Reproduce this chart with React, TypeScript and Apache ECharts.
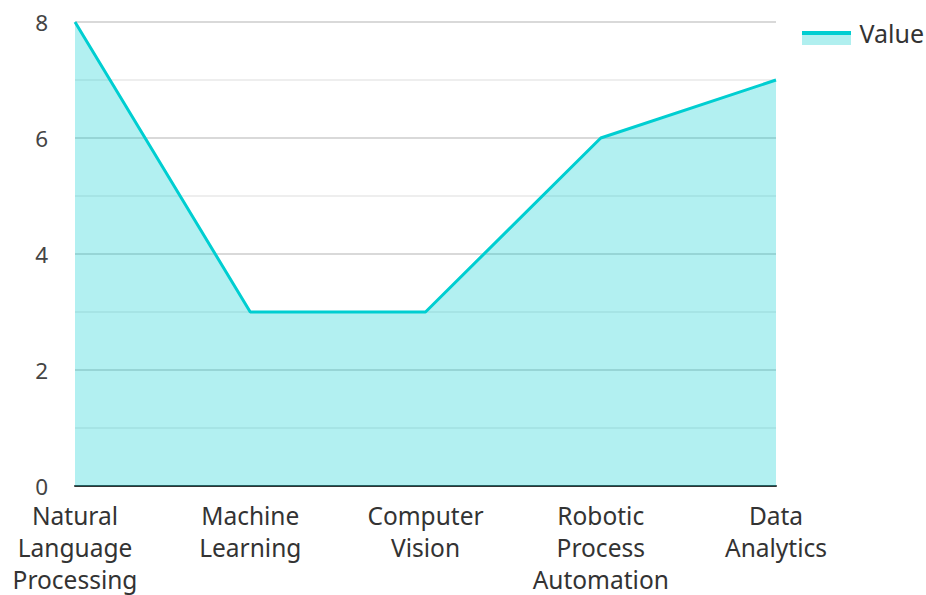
import React, { useEffect, useRef } from "react";
import * as echarts from "echarts";

const categories = [
  "Natural Language Processing",
  "Machine Learning",
  "Computer Vision",
  "Robotic Process Automation",
  "Data Analytics",
];
const values = [8, 3, 3, 6, 7];
const seriesName = "Value";

export default function App() {
  const ref = useRef<HTMLDivElement>(null);
  useEffect(() => {
    if (!ref.current) return;
    const chart = echarts.init(ref.current, null, { renderer: "svg" });
    const font = "'Noto Sans', 'Open Sans', sans-serif";
    chart.setOption({
      animation: false,
      textStyle: { fontFamily: font },
      grid: { left: 75, right: 150, top: 22, bottom: 107, containLabel: false },
      legend: {
        data: [seriesName],
        right: 2,
        top: 20,
        padding: 0,
        itemWidth: 50,
        itemHeight: 14,
        icon: "rect",
        itemStyle: { opacity: 0 },
        textStyle: { fontSize: 25, color: "#333", fontFamily: font },
      },
      graphic: [
        {
          type: "rect",
          left: 802,
          top: 35,
          shape: { width: 49, height: 10 },
          style: { fill: "#b0efef" },
          z: 100,
        },
        {
          type: "rect",
          left: 802,
          top: 31,
          shape: { width: 49, height: 4 },
          style: { fill: "#00CED1" },
          z: 100,
        },
      ],
      xAxis: {
        type: "category",
        data: categories,
        boundaryGap: false,
        axisLine: { show: true, lineStyle: { color: "#333", width: 2 } },
        axisTick: { show: false },
        axisLabel: {
          fontSize: 24.5,
          lineHeight: 32,
          color: "#333",
          margin: 13,
          interval: 0,
          formatter: (v: string) => v.split(" ").join("\n"),
        },
        splitLine: { show: false },
      },
      yAxis: {
        type: "value",
        min: 0,
        max: 8,
        interval: 2,
        axisLine: { show: false },
        axisTick: { show: false },
        axisLabel: { fontSize: 22.5, color: "#444", margin: 27 },
        splitLine: { show: true, lineStyle: { color: "#cccccc", width: 1.5 } },
        minorTick: { show: false, splitNumber: 2 },
        minorSplitLine: { show: true, lineStyle: { color: "#e8e8e8", width: 1.5 } },
      },
      series: [
        {
          name: seriesName,
          type: "line",
          data: values,
          showSymbol: false,
          symbol: "none",
          lineStyle: { color: "#00CED1", width: 3 },
          itemStyle: { color: "#00CED1" },
          areaStyle: { color: "#00CED1", opacity: 0.3 },
        },
      ],
    });
    return () => chart.dispose();
  }, []);
  return <div ref={ref} style={{ width: 926, height: 595, position: "absolute", left: 0, top: 0 }} />;
}
